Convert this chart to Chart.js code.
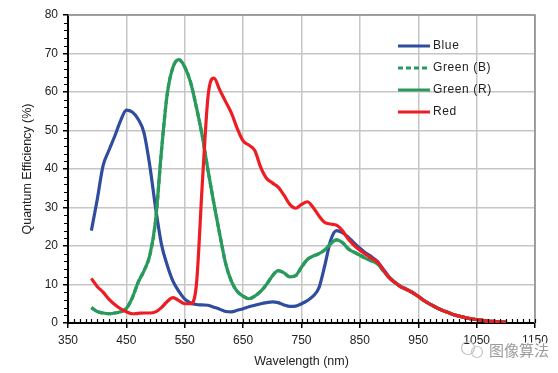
<!DOCTYPE html>
<html>
<head>
<meta charset="utf-8">
<script src="https://cdn.jsdelivr.net/npm/chart.js@4.4.1/dist/chart.umd.min.js"></script>
<style>
  body { margin: 0; background: #fff; }
  canvas { display: block; }
</style>
</head>
<body>
<canvas id="qeChart" width="558" height="373"></canvas>
<script>
// wavelength grid (nm) and quantum efficiency (%)
const wavelengths = [390,400,410,420,430,440,450,460,470,480,490,500,510,520,530,540,550,560,570,580,
  590,600,610,620,630,640,650,660,670,680,690,700,710,720,730,740,750,760,770,780,
  790,800,810,820,830,840,850,860,870,880,890,900,910,920,930,940,950,960,970,980,
  990,1000,1010,1020,1030,1040,1050,1060,1070,1080,1090,1100];

const blueQE = [24,32,40.8,44.8,48.5,52.5,55.3,54.8,53,49.5,41,30,20.5,15,10.8,8.2,6.2,5.2,4.8,4.7,
  4.6,4.1,3.6,3,2.9,3.3,3.7,4.2,4.6,5,5.3,5.5,5.3,4.7,4.3,4.4,5,5.8,7,9.2,
  15,21.5,24,23.5,22.3,20.8,19.4,18.2,17.2,16,14,12,10.6,9.5,8.8,8,6.9,5.8,4.9,4.1,
  3.4,2.8,2.2,1.8,1.4,1.1,0.9,0.7,0.5,0.4,0.3,0.25];

const greenBQE = [4,3,2.6,2.4,2.6,2.9,3.8,6.5,10.5,13.5,17.5,26.5,44.5,59.5,66.5,68.4,66.5,62.5,56,48.6,
  39.5,31,23,15.5,10.8,8.2,7,6.3,7,8.2,10,12.2,13.6,13,12,12.3,14.5,16.5,17.4,18,
  19,20.6,21.6,20.9,19.3,18.4,17.6,16.8,16.1,15.4,13.6,11.8,10.5,9.4,8.7,7.9,6.9,5.8,4.9,4.1,
  3.4,2.8,2.2,1.8,1.4,1.1,0.9,0.7,0.5,0.4,0.3,0.25];

const greenRQE = [4,3,2.6,2.4,2.6,2.9,3.8,6.5,10.5,13.5,17.5,26.5,44.5,59.5,66.5,68.4,66.5,62.5,56,48.6,
  39.5,31,23,15.5,10.8,8.2,7,6.3,7,8.2,10,12.2,13.6,13,12,12.3,14.5,16.5,17.4,18,
  19,20.6,21.6,20.9,19.3,18.4,17.6,16.8,16.1,15.4,13.6,11.8,10.5,9.4,8.7,7.9,6.9,5.8,4.9,4.1,
  3.4,2.8,2.2,1.8,1.4,1.1,0.9,0.7,0.5,0.4,0.3,0.25];

const redQE = [11.6,9.5,8,6.2,4.8,3.7,2.9,2.4,2.5,2.6,2.6,2.9,4,5.6,6.6,5.8,5,5,10,36,
  59,63.6,60.5,57.5,54.5,50.5,47.3,46.2,44.8,40.5,37.6,36.4,35.3,33.2,30.8,29.8,30.8,31.5,30,27.8,
  26.1,25.7,25.4,24,21.8,20.2,18.9,17.8,16.8,15.8,13.8,11.8,10.5,9.4,8.7,7.9,6.9,5.8,4.9,4.1,
  3.4,2.8,2.2,1.8,1.4,1.1,0.9,0.7,0.5,0.4,0.3,0.25];

const seriesNames = ["Blue", "Green (B)", "Green (R)", "Red"];
const seriesColors = ["#2f4c9f", "#2a9a5c", "#2a9a5c", "#ee1d24"];
const xTicks = [350, 450, 550, 650, 750, 850, 950, 1050, 1150];
const yTicks = [0, 10, 20, 30, 40, 50, 60, 70, 80];

const FONT = "'Liberation Sans', Arial, sans-serif";
Chart.defaults.font.family = FONT;
Chart.defaults.color = "#222";

function toPoints(values) {
  return values.map((v, i) => ({ x: wavelengths[i], y: v }));
}

// minor ticks, plot frame, legend and watermark
const decorPlugin = {
  id: "decor",
  afterDraw(chart) {
    const ctx = chart.ctx;
    const area = chart.chartArea;
    const xs = chart.scales.x;
    const ys = chart.scales.y;
    ctx.save();

    // top / right frame
    ctx.strokeStyle = "#8c8c8c";
    ctx.lineWidth = 1.5;
    ctx.beginPath();
    ctx.moveTo(area.left, area.top);
    ctx.lineTo(area.right, area.top);
    ctx.lineTo(area.right, area.bottom);
    ctx.stroke();

    // minor ticks
    ctx.strokeStyle = "#000";
    ctx.lineWidth = 1.2;
    ctx.beginPath();
    for (let v = 350; v <= 1150; v += 10) {
      const px = Math.round(xs.getPixelForValue(v)) + 0.5;
      ctx.moveTo(px, area.bottom - 4);
      ctx.lineTo(px, area.bottom);
    }
    for (let v = 2; v < 80; v += 2) {
      if (v % 10 === 0) continue;
      const py = Math.round(ys.getPixelForValue(v)) + 0.5;
      ctx.moveTo(area.left - 4, py);
      ctx.lineTo(area.left, py);
    }
    ctx.stroke();

    // legend
    const lx = 398, ly = 46, gap = 22;
    ctx.font = "12px " + FONT;
    ctx.letterSpacing = "0.6px";
    ctx.textBaseline = "middle";
    ctx.textAlign = "left";
    seriesNames.forEach((name, i) => {
      const y = ly + i * gap;
      ctx.strokeStyle = seriesColors[i];
      ctx.lineWidth = 3;
      ctx.setLineDash(name === "Green (B)" ? [5, 3] : []);
      ctx.beginPath();
      ctx.moveTo(lx, y);
      ctx.lineTo(lx + 32, y);
      ctx.stroke();
      ctx.setLineDash([]);
      ctx.fillStyle = "#222";
      ctx.fillText(name, lx + 35, y);
    });
    ctx.letterSpacing = "0px";

    // watermark
    ctx.strokeStyle = "#c4c4c4";
    ctx.lineWidth = 1.2;
    ctx.beginPath();
    ctx.arc(468, 348, 6.5, 0, Math.PI * 2);
    ctx.stroke();
    ctx.beginPath();
    ctx.arc(477, 352, 5.5, 0, Math.PI * 2);
    ctx.stroke();
    ctx.font = "15px 'Noto Sans CJK SC', sans-serif";
    ctx.lineWidth = 3;
    ctx.strokeStyle = "#fff";
    ctx.strokeText("图像算法", 489, 350);
    ctx.fillStyle = "#9a9a9a";
    ctx.fillText("图像算法", 489, 350);
    ctx.restore();
  }
};

const ctxEl = document.getElementById("qeChart");

new Chart(ctxEl, {
  type: "line",
  data: {
    datasets: [
      { label: seriesNames[0], data: toPoints(blueQE), borderColor: seriesColors[0], order: 3 },
      { label: seriesNames[1], data: toPoints(greenBQE), borderColor: seriesColors[1], borderDash: [5, 3], order: 2 },
      { label: seriesNames[2], data: toPoints(greenRQE), borderColor: seriesColors[2], order: 1 },
      { label: seriesNames[3], data: toPoints(redQE), borderColor: seriesColors[3], order: 0 },
    ],
  },
  options: {
    responsive: false,
    animation: false,
    devicePixelRatio: 1,
    layout: { padding: { top: 15, right: 23, left: 0, bottom: 0 } },
    elements: {
      point: { radius: 0 },
      line: { borderWidth: 3.2, cubicInterpolationMode: "monotone", fill: false },
    },
    plugins: {
      legend: { display: false },
      tooltip: { enabled: false },
    },
    scales: {
      x: {
        type: "linear",
        min: 350,
        max: 1150,
        afterFit: (s) => { s.height = 50; },
        afterBuildTicks: (s) => { s.ticks = xTicks.map((v) => ({ value: v })); },
        ticks: { font: { size: 12 }, color: "#222", padding: 5, maxRotation: 0, callback: (v) => String(v) },
        grid: { color: "#c6c6c6", lineWidth: 1.5, tickLength: 5, tickColor: "#000", tickWidth: 1.5 },
        border: { color: "#000", width: 2 },
        title: { display: true, text: "Wavelength (nm)", font: { size: 12.5 }, color: "#222", padding: { top: 0, bottom: 4 } },
      },
      y: {
        min: 0,
        max: 80,
        afterFit: (s) => { s.width = 68; },
        afterBuildTicks: (s) => { s.ticks = yTicks.map((v) => ({ value: v })); },
        ticks: { font: { size: 12 }, color: "#222", padding: 5, callback: (v) => String(v) },
        grid: { color: "#c6c6c6", lineWidth: 1.5, tickLength: 5, tickColor: "#000", tickWidth: 1.5 },
        border: { color: "#000", width: 2 },
        title: { display: true, text: "Quantum Efficiency (%)", font: { size: 12.5 }, color: "#222", padding: { top: 20, bottom: 0 } },
      },
    },
  },
  plugins: [decorPlugin],
});
</script>
</body>
</html>
